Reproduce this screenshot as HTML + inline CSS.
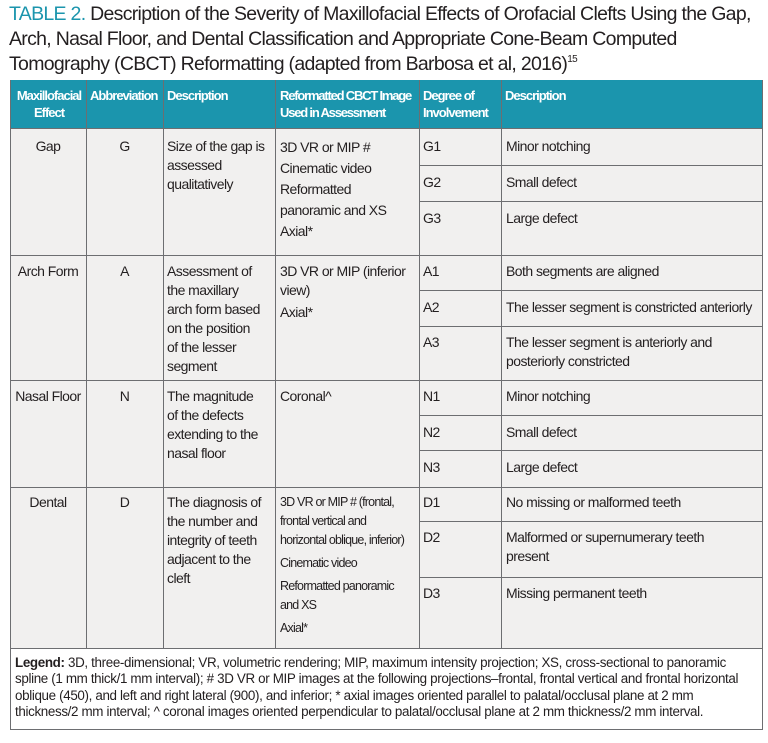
<!DOCTYPE html>
<html><head><meta charset="utf-8"><style>
*{margin:0;padding:0;box-sizing:border-box}
body{width:768px;height:743px;background:#fff;position:relative;overflow:hidden;font-family:"Liberation Sans",sans-serif;color:#231f20}
.t{position:absolute;font-size:14px;line-height:19px;letter-spacing:-0.55px;white-space:nowrap}
.h{position:absolute;font-size:13px;line-height:17px;font-weight:bold;color:#fff;letter-spacing:-1px;white-space:nowrap}
.vl{position:absolute;width:1px;background:#6d6e71}
.hl{position:absolute;height:1px;background:#6d6e71}
.title{position:absolute;left:9px;font-size:19.5px;line-height:25px;letter-spacing:-0.7px;white-space:nowrap;color:#231f20}
sup{line-height:0;vertical-align:8px}
</style></head><body>
<div class="title" style="top:2px"><span style="color:#1b95ad">TABLE 2.</span> Description of the Severity of Maxillofacial Effects of Orofacial Clefts Using the Gap,</div>
<div class="title" style="top:27px">Arch, Nasal Floor, and Dental Classification and Appropriate Cone-Beam Computed</div>
<div class="title" style="top:52px">Tomography (CBCT) Reformatting (adapted from Barbosa et al, 2016)<sup style="font-size:10px">15</sup></div>

<div style="position:absolute;left:10px;top:80px;width:753px;height:48px;background:#1b95ad"></div>
<div style="position:absolute;left:10px;top:128px;width:753px;height:520px;background:#f1f0ef"></div>
<div style="position:absolute;left:10px;top:648px;width:753px;height:82px;background:#fff;border:1px solid #6d6e71;border-top:none"></div>

<div class="h" style="left:14px;top:87px;text-align:center;width:70px">Maxillofacial<br>Effect</div>
<div class="h" style="left:90px;top:87px">Abbreviation</div>
<div class="h" style="left:167px;top:87px">Description</div>
<div class="h" style="left:280px;top:87px;letter-spacing:-1.2px">Reformatted CBCT Image<br>Used in Assessment</div>
<div class="h" style="left:423px;top:87px">Degree of<br>Involvement</div>
<div class="h" style="left:505px;top:87px">Description</div>

<div class="vl" style="left:10px;top:80px;height:568px"></div>
<div class="vl" style="left:86px;top:80px;height:568px"></div>
<div class="vl" style="left:163px;top:80px;height:568px"></div>
<div class="vl" style="left:275px;top:80px;height:568px"></div>
<div class="vl" style="left:419px;top:80px;height:568px"></div>
<div class="vl" style="left:501px;top:80px;height:568px"></div>
<div class="vl" style="left:762px;top:80px;height:568px"></div>

<div class="hl" style="left:10px;top:128px;width:753px"></div>
<div class="hl" style="left:10px;top:255px;width:753px"></div>
<div class="hl" style="left:10px;top:380px;width:753px"></div>
<div class="hl" style="left:10px;top:487px;width:753px"></div>
<div class="hl" style="left:10px;top:648px;width:753px"></div>
<div class="hl" style="left:419px;top:165px;width:344px"></div>
<div class="hl" style="left:419px;top:201px;width:344px"></div>
<div class="hl" style="left:419px;top:290px;width:344px"></div>
<div class="hl" style="left:419px;top:326px;width:344px"></div>
<div class="hl" style="left:419px;top:415px;width:344px"></div>
<div class="hl" style="left:419px;top:450px;width:344px"></div>
<div class="hl" style="left:419px;top:521px;width:344px"></div>
<div class="hl" style="left:419px;top:577px;width:344px"></div>

<div class="t" style="left:10px;width:76px;text-align:center;top:137px">Gap</div>
<div class="t" style="left:86px;width:77px;text-align:center;top:137px">G</div>
<div class="t" style="left:167px;top:137px">Size of the gap is<br>assessed<br>qualitatively</div>
<div class="t" style="left:280px;top:137px;line-height:21px">3D VR or MIP #<br>Cinematic video<br><span style="line-height:19px">Reformatted</span><br>panoramic and XS<br>Axial*</div>
<div class="t" style="left:423px;top:137px">G1</div><div class="t" style="left:506px;top:137px">Minor notching</div>
<div class="t" style="left:423px;top:173px">G2</div><div class="t" style="left:506px;top:173px">Small defect</div>
<div class="t" style="left:423px;top:209px">G3</div><div class="t" style="left:506px;top:209px">Large defect</div>

<div class="t" style="left:10px;width:76px;text-align:center;top:262px">Arch Form</div>
<div class="t" style="left:86px;width:77px;text-align:center;top:262px">A</div>
<div class="t" style="left:167px;top:262px">Assessment of<br>the maxillary<br>arch form based<br>on the position<br>of the lesser<br>segment</div>
<div class="t" style="left:280px;top:262px">3D VR or MIP (inferior<br>view)<br><span style="display:inline-block;margin-top:3px">Axial*</span></div>
<div class="t" style="left:423px;top:262px">A1</div><div class="t" style="left:506px;top:262px">Both segments are aligned</div>
<div class="t" style="left:423px;top:298px">A2</div><div class="t" style="left:506px;top:298px">The lesser segment is constricted anteriorly</div>
<div class="t" style="left:423px;top:333px">A3</div><div class="t" style="left:506px;top:333px">The lesser segment is anteriorly and<br>posteriorly constricted</div>

<div class="t" style="left:10px;width:76px;text-align:center;top:387px">Nasal Floor</div>
<div class="t" style="left:86px;width:77px;text-align:center;top:387px">N</div>
<div class="t" style="left:167px;top:387px">The magnitude<br>of the defects<br>extending to the<br>nasal floor</div>
<div class="t" style="left:280px;top:387px">Coronal^</div>
<div class="t" style="left:423px;top:387px">N1</div><div class="t" style="left:506px;top:387px">Minor notching</div>
<div class="t" style="left:423px;top:423px">N2</div><div class="t" style="left:506px;top:423px">Small defect</div>
<div class="t" style="left:423px;top:458px">N3</div><div class="t" style="left:506px;top:458px">Large defect</div>

<div class="t" style="left:10px;width:76px;text-align:center;top:493px">Dental</div>
<div class="t" style="left:86px;width:77px;text-align:center;top:493px">D</div>
<div class="t" style="left:167px;top:493px">The diagnosis of<br>the number and<br>integrity of teeth<br>adjacent to the<br>cleft</div>
<div class="t" style="left:280px;top:493px;font-size:12.5px;line-height:19px;letter-spacing:-0.8px">3D VR or MIP # (frontal,<br>frontal vertical and<br>horizontal oblique, inferior)<br><span style="display:inline-block;margin-top:4px">Cinematic video</span><br><span style="display:inline-block;margin-top:4px">Reformatted panoramic</span><br>and XS<br><span style="display:inline-block;margin-top:4px">Axial*</span></div>
<div class="t" style="left:423px;top:493px">D1</div><div class="t" style="left:506px;top:493px">No missing or malformed teeth</div>
<div class="t" style="left:423px;top:528px">D2</div><div class="t" style="left:506px;top:528px">Malformed or supernumerary teeth<br>present</div>
<div class="t" style="left:423px;top:584px">D3</div><div class="t" style="left:506px;top:584px">Missing permanent teeth</div>

<div class="t" style="left:15px;top:655px;font-size:13.4px;line-height:16.3px;letter-spacing:-0.35px"><b>Legend:</b> 3D, three-dimensional; VR, volumetric rendering; MIP, maximum intensity projection; XS, cross-sectional to panoramic<br>spline (1 mm thick/1 mm interval); # 3D VR or MIP images at the following projections–frontal, frontal vertical and frontal horizontal<br>oblique (450), and left and right lateral (900), and inferior; * axial images oriented parallel to palatal/occlusal plane at 2 mm<br>thickness/2 mm interval; ^ coronal images oriented perpendicular to palatal/occlusal plane at 2 mm thickness/2 mm interval.</div>
</body></html>
